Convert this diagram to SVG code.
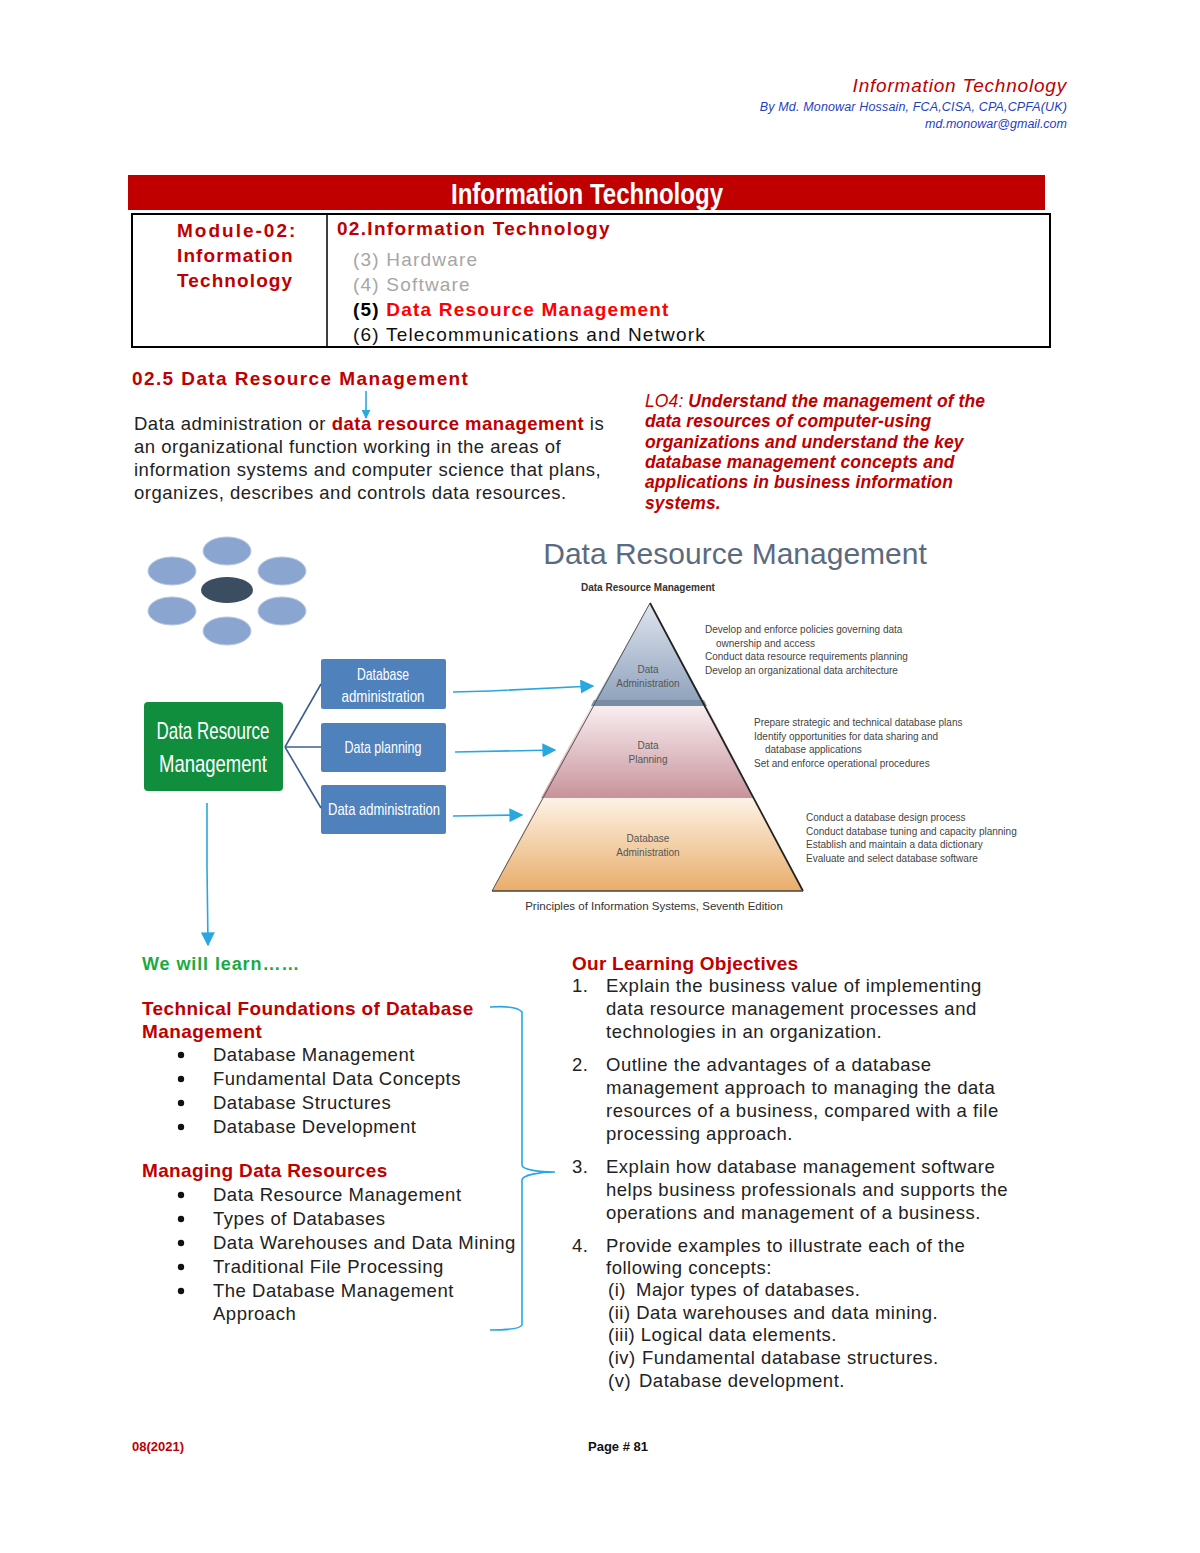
<svg xmlns="http://www.w3.org/2000/svg" width="1200" height="1553" viewBox="0 0 1200 1553">
<defs>
<style>
text{font-family:"Liberation Sans",Arial,sans-serif;}
.body{font-size:18.5px;fill:#222;letter-spacing:0.5px;}
.red{fill:#c00000;font-weight:bold;}
.hd{font-size:19px;fill:#c00000;font-weight:bold;}
.lo{font-size:17.5px;fill:#c00000;font-style:italic;font-weight:bold;letter-spacing:0.1px;}
.sm{font-size:10px;fill:#444;}
.pyr{font-size:10px;fill:#555;text-anchor:middle;}
.wb{fill:#fff;text-anchor:middle;font-family:"Liberation Sans",Arial,sans-serif;}
.arr{stroke:#29a8e0;stroke-width:1.6;fill:none;}
.conn{stroke:#3c5f8e;stroke-width:1.6;fill:none;}
.bubble{fill:#8aa5cf;stroke:#b9c8df;stroke-width:1;}
.item{font-size:19px;letter-spacing:1.2px;}
</style>
<marker id="ah" viewBox="0 0 10 10" refX="9" refY="5" markerWidth="9" markerHeight="9" markerUnits="userSpaceOnUse" orient="auto"><path d="M0,0 L10,5 L0,10 z" fill="#29a8e0"/></marker>
<marker id="ahb" viewBox="0 0 10 10" refX="9" refY="5" markerWidth="14" markerHeight="14" markerUnits="userSpaceOnUse" orient="auto"><path d="M0,0 L10,5 L0,10 z" fill="#29a8e0"/></marker>
<linearGradient id="g1" x1="0" y1="0" x2="0" y2="1"><stop offset="0" stop-color="#dfe5ee"/><stop offset="1" stop-color="#8fa2bd"/></linearGradient>
<linearGradient id="g2" x1="0" y1="0" x2="0" y2="1"><stop offset="0" stop-color="#f8eef0"/><stop offset="1" stop-color="#c8939b"/></linearGradient>
<linearGradient id="g3" x1="0" y1="0" x2="0" y2="1"><stop offset="0" stop-color="#fdf2e6"/><stop offset="1" stop-color="#e9ad6a"/></linearGradient>
</defs>
<rect width="1200" height="1553" fill="#fff"/>

<!-- page header -->
<g id="page-header">
<text x="1067" y="92" text-anchor="end" font-size="19" font-style="italic" fill="#c00000" letter-spacing="0.8">Information Technology</text>
<text x="1067" y="111" text-anchor="end" font-size="12.5" font-style="italic" fill="#1f3fbf" letter-spacing="0.15">By Md. Monowar Hossain, FCA,CISA, CPA,CPFA(UK)</text>
<text x="1067" y="128" text-anchor="end" font-size="12.5" font-style="italic" fill="#1f3fbf">md.monowar@gmail.com</text>
</g>

<!-- title band and table -->
<g id="title-band">
<rect x="128" y="175" width="917" height="35" fill="#c00000"/>
<text x="587" y="204" text-anchor="middle" font-family="'DejaVu Serif Condensed','DejaVu Serif',serif" font-weight="bold" font-size="29" fill="#fff" textLength="272" lengthAdjust="spacingAndGlyphs">Information Technology</text>
</g>
<g id="module-table">
<rect x="132" y="214" width="918" height="133" fill="none" stroke="#000" stroke-width="2"/>
<line x1="327" y1="214" x2="327" y2="347" stroke="#000" stroke-width="1.5"/>
<text x="177" y="237" class="hd" font-size="20" letter-spacing="2">Module-02:</text>
<text x="177" y="262" class="hd" letter-spacing="1.1">Information</text>
<text x="177" y="287" class="hd" letter-spacing="1.1">Technology</text>
<text x="337" y="235" class="hd" letter-spacing="1.3">02.Information Technology</text>
<text x="353" y="266" class="item" fill="#a6a6a6">(3) Hardware</text>
<text x="353" y="291" class="item" fill="#a6a6a6">(4) Software</text>
<text x="353" y="316" class="item" font-weight="bold" fill="#000">(5) <tspan fill="#ff0000">Data Resource Management</tspan></text>
<text x="353" y="341" class="item" fill="#111">(6) Telecommunications and Network</text>
</g>

<!-- intro -->
<g id="intro">
<text x="132" y="385" class="hd" letter-spacing="1.4">02.5 Data Resource Management</text>
<text x="134" y="430" class="body">Data administration or <tspan class="red">data resource management</tspan> is</text>
<text x="134" y="453" class="body">an organizational function working in the areas of</text>
<text x="134" y="476" class="body">information systems and computer science that plans,</text>
<text x="134" y="499" class="body">organizes, describes and controls data resources.</text>
</g>
<g id="lo4">
<text x="645" y="407" class="lo"><tspan font-weight="normal">LO4: </tspan>Understand the management of the</text>
<text x="645" y="427" class="lo">data resources of computer-using</text>
<text x="645" y="448" class="lo">organizations and understand the key</text>
<text x="645" y="468" class="lo">database management concepts and</text>
<text x="645" y="488" class="lo">applications in business information</text>
<text x="645" y="509" class="lo">systems.</text>
</g>

<!-- small cycle picture -->
<g id="cycle-picture">
<ellipse cx="227" cy="551" rx="24" ry="14" class="bubble"/>
<ellipse cx="282" cy="571" rx="24" ry="14" class="bubble"/>
<ellipse cx="282" cy="611" rx="24" ry="14" class="bubble"/>
<ellipse cx="227" cy="631" rx="24" ry="14" class="bubble"/>
<ellipse cx="172" cy="611" rx="24" ry="14" class="bubble"/>
<ellipse cx="172" cy="571" rx="24" ry="14" class="bubble"/>
<ellipse cx="227" cy="590" rx="26" ry="13" fill="#3b4d60"/>
</g>

<!-- pyramid -->
<g id="pyramid">
<text x="735" y="564" text-anchor="middle" font-size="30" fill="#5b6a7e">Data Resource Management</text>
<text x="581" y="591" font-size="10" font-weight="bold" fill="#333">Data Resource Management</text>
<polygon points="650,603 594,702 704,702" fill="url(#g1)"/>
<polygon points="594,700 704,700 707,706 591,706" fill="#7b8ca5"/>
<polygon points="591,706 707,706 754,798 541,798" fill="url(#g2)"/>
<polygon points="541,798 754,798 803,891 492,891" fill="url(#g3)"/>
<line x1="650" y1="603" x2="803" y2="891" stroke="#222" stroke-width="1.8"/>
<line x1="650" y1="603" x2="492" y2="891" stroke="#555" stroke-width="1"/>
<line x1="492" y1="891" x2="803" y2="891" stroke="#444" stroke-width="1.5"/>
<text x="648" y="673" class="pyr">Data</text>
<text x="648" y="687" class="pyr">Administration</text>
<text x="648" y="749" class="pyr">Data</text>
<text x="648" y="763" class="pyr">Planning</text>
<text x="648" y="842" class="pyr">Database</text>
<text x="648" y="856" class="pyr">Administration</text>
<text x="705" y="633" class="sm">Develop and enforce policies governing data</text>
<text x="716" y="647" class="sm">ownership and access</text>
<text x="705" y="660" class="sm">Conduct data resource requirements planning</text>
<text x="705" y="674" class="sm">Develop an organizational data architecture</text>
<text x="754" y="726" class="sm">Prepare strategic and technical database plans</text>
<text x="754" y="740" class="sm">Identify opportunities for data sharing and</text>
<text x="765" y="753" class="sm">database applications</text>
<text x="754" y="767" class="sm">Set and enforce operational procedures</text>
<text x="806" y="821" class="sm">Conduct a database design process</text>
<text x="806" y="835" class="sm">Conduct database tuning and capacity planning</text>
<text x="806" y="848" class="sm">Establish and maintain a data dictionary</text>
<text x="806" y="862" class="sm">Evaluate and select database software</text>
<text x="654" y="910" text-anchor="middle" font-size="11.5" fill="#333">Principles of Information Systems, Seventh Edition</text>
</g>

<!-- nodes -->
<g id="node-drm">
<rect x="144" y="702" width="139" height="89" rx="4" fill="#118d3e"/>
<text x="213" y="739" class="wb" font-size="24" textLength="113" lengthAdjust="spacingAndGlyphs">Data Resource</text>
<text x="213" y="772" class="wb" font-size="24" textLength="108" lengthAdjust="spacingAndGlyphs">Management</text>
</g>
<g id="node-dbadmin">
<rect x="321" y="659" width="125" height="50" rx="2" fill="#4f81bd"/>
<text x="383" y="680" class="wb" font-size="17" textLength="52" lengthAdjust="spacingAndGlyphs">Database</text>
<text x="383" y="702" class="wb" font-size="17" textLength="83" lengthAdjust="spacingAndGlyphs">administration</text>
</g>
<g id="node-planning">
<rect x="321" y="723" width="125" height="49" rx="2" fill="#4f81bd"/>
<text x="383" y="753" class="wb" font-size="17" textLength="77" lengthAdjust="spacingAndGlyphs">Data planning</text>
</g>
<g id="node-dataadmin">
<rect x="321" y="785" width="125" height="49" rx="2" fill="#4f81bd"/>
<text x="384" y="815" class="wb" font-size="17" textLength="112" lengthAdjust="spacingAndGlyphs">Data administration</text>
</g>

<!-- connectors -->
<g id="connectors">
<path class="conn" d="M285,747 L321,684"/>
<path class="conn" d="M285,747 L321,747"/>
<path class="conn" d="M285,747 L321,808"/>
<path class="arr" d="M453,692 L490,691 L593,686" marker-end="url(#ahb)"/>
<path class="arr" d="M455,752 L555,750" marker-end="url(#ahb)"/>
<path class="arr" d="M453,816 L522,815" marker-end="url(#ahb)"/>
<path class="arr" d="M207,803 L207,866 L208,945" marker-end="url(#ahb)"/>
<path class="arr" d="M366,391 L366,418" marker-end="url(#ah)"/>
<path class="arr" d="M490,1007 C505,1006 518,1007 522,1012 L522,1165 C522,1170 540,1172 555,1172 M522,1180 C522,1175 540,1172 555,1172 M522,1180 L522,1325 C520,1329 505,1330 490,1330"/>
</g>

<!-- we will learn -->
<g id="learn-list">
<text x="142" y="970" font-size="18" font-weight="bold" fill="#1aab40" letter-spacing="0.9">We will learn……</text>
<text x="142" y="1015" class="hd" font-size="18.5" letter-spacing="0.4">Technical Foundations of Database</text>
<text x="142" y="1038" class="hd" font-size="18.5" letter-spacing="0.4">Management</text>
<circle cx="181" cy="1055" r="3.2" fill="#111"/><text x="213" y="1061" class="body">Database Management</text>
<circle cx="181" cy="1079" r="3.2" fill="#111"/><text x="213" y="1085" class="body">Fundamental Data Concepts</text>
<circle cx="181" cy="1103" r="3.2" fill="#111"/><text x="213" y="1109" class="body">Database Structures</text>
<circle cx="181" cy="1127" r="3.2" fill="#111"/><text x="213" y="1133" class="body">Database Development</text>
<text x="142" y="1177" class="hd" font-size="18.5" letter-spacing="0.35">Managing Data Resources</text>
<circle cx="181" cy="1195" r="3.2" fill="#111"/><text x="213" y="1201" class="body">Data Resource Management</text>
<circle cx="181" cy="1219" r="3.2" fill="#111"/><text x="213" y="1225" class="body">Types of Databases</text>
<circle cx="181" cy="1243" r="3.2" fill="#111"/><text x="213" y="1249" class="body">Data Warehouses and Data Mining</text>
<circle cx="181" cy="1267" r="3.2" fill="#111"/><text x="213" y="1273" class="body">Traditional File Processing</text>
<circle cx="181" cy="1291" r="3.2" fill="#111"/><text x="213" y="1297" class="body">The Database Management</text>
<text x="213" y="1320" class="body">Approach</text>
</g>

<!-- objectives -->
<g id="objectives">
<text x="572" y="970" class="hd" font-size="18.5" letter-spacing="0.25">Our Learning Objectives</text>
<text x="572" y="992" class="body">1.</text>
<text x="606" y="992" class="body">Explain the business value of implementing</text>
<text x="606" y="1015" class="body">data resource management processes and</text>
<text x="606" y="1038" class="body">technologies in an organization.</text>
<text x="572" y="1071" class="body">2.</text>
<text x="606" y="1071" class="body">Outline the advantages of a database</text>
<text x="606" y="1094" class="body">management approach to managing the data</text>
<text x="606" y="1117" class="body">resources of a business, compared with a file</text>
<text x="606" y="1140" class="body">processing approach.</text>
<text x="572" y="1173" class="body">3.</text>
<text x="606" y="1173" class="body">Explain how database management software</text>
<text x="606" y="1196" class="body">helps business professionals and supports the</text>
<text x="606" y="1219" class="body">operations and management of a business.</text>
<text x="572" y="1252" class="body">4.</text>
<text x="606" y="1252" class="body">Provide examples to illustrate each of the</text>
<text x="606" y="1274" class="body">following concepts:</text>
<text x="608" y="1296" class="body">(i)<tspan x="636">Major types of databases.</tspan></text>
<text x="608" y="1319" class="body">(ii) Data warehouses and data mining.</text>
<text x="608" y="1341" class="body">(iii) Logical data elements.</text>
<text x="608" y="1364" class="body">(iv)<tspan x="642">Fundamental database structures.</tspan></text>
<text x="608" y="1387" class="body">(v)<tspan x="639">Database development.</tspan></text>
</g>

<!-- footer -->
<g id="footer">
<text x="132" y="1451" font-size="13" font-weight="bold" fill="#c00000">08(2021)</text>
<text x="588" y="1451" font-size="13" font-weight="bold" fill="#111">Page # 81</text>
</g>
</svg>
